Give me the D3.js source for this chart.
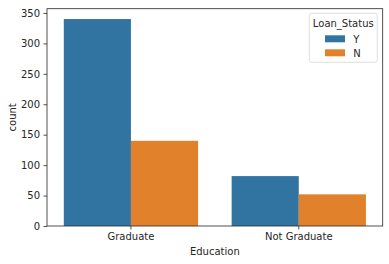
<!DOCTYPE html>
<html>
<head>
<meta charset="utf-8">
<script src="https://cdn.jsdelivr.net/npm/d3@7"></script>
<style>
  body { margin: 0; background: #fff; }
  svg text { font-family: "DejaVu Sans", sans-serif; fill: #262626; }
</style>
</head>
<body>
<div class="chart"></div>
<script>
// data
const educationLevels = ["Graduate", "Not Graduate"];
const loanStatus = ["Y", "N"];
const countY = [340, 82];
const countN = [140, 52];
const yTicks = [0, 50, 100, 150, 200, 250, 300, 350];
const hueColors = ["#3274a1", "#e1812c"];

const width = 389, height = 264;
const margin = {left: 47, right: 6.3, top: 8.7, bottom: 38};
const plotW = width - margin.left - margin.right;
const plotH = height - margin.top - margin.bottom;

const svg = d3.select(".chart").append("svg")
    .attr("width", width)
    .attr("height", height);

const g = svg.append("g")
    .attr("transform", `translate(${margin.left},${margin.top})`);

// build rows for the bars
const rows = [];
educationLevels.forEach((edu, i) => {
    rows.push({edu, status: "Y", value: countY[i]});
    rows.push({edu, status: "N", value: countN[i]});
});

const x = d3.scaleBand().domain(educationLevels).range([0, plotW]).padding(0);
const xInner = d3.scaleBand().domain(loanStatus).range([x.bandwidth() * 0.1, x.bandwidth() * 0.9]);
const y = d3.scaleLinear().domain([0, d3.max(countY) * 1.05]).range([plotH, 0]);
const color = d3.scaleOrdinal().domain(loanStatus).range(hueColors);

g.selectAll("rect.bar")
    .data(rows)
    .enter()
    .append("rect")
    .attr("class", "bar")
    .attr("x", d => x(d.edu) + xInner(d.status))
    .attr("y", d => y(d.value))
    .attr("width", xInner.bandwidth())
    .attr("height", d => plotH - y(d.value))
    .attr("fill", d => color(d.status));

// axes
const yAxis = g.append("g")
    .call(d3.axisLeft(y).tickValues(yTicks).tickSize(3.5).tickPadding(3.5));
const xAxis = g.append("g")
    .attr("transform", `translate(0,${plotH})`)
    .call(d3.axisBottom(x).tickSize(3.5).tickPadding(3.5));

[xAxis, yAxis].forEach(a => {
    a.select(".domain").remove();
    a.selectAll("text").attr("font-size", 10).attr("fill", "#262626")
        .style("font-family", "DejaVu Sans, sans-serif");
    a.selectAll("line").attr("stroke", "#262626").attr("stroke-width", 0.8);
});

// frame
g.append("rect")
    .attr("width", plotW).attr("height", plotH)
    .attr("fill", "none").attr("stroke", "#262626").attr("stroke-width", 0.8);

// axis labels
svg.append("text")
    .attr("x", margin.left + plotW / 2)
    .attr("y", 255)
    .attr("text-anchor", "middle")
    .attr("font-size", 10)
    .text("Education");

svg.append("text")
    .attr("transform", `translate(15.5,${margin.top + plotH / 2}) rotate(-90)`)
    .attr("text-anchor", "middle")
    .attr("font-size", 10)
    .text("count");

// legend
const legend = svg.append("g").attr("transform", "translate(309.3,13.3)");
legend.append("rect")
    .attr("width", 68).attr("height", 49).attr("rx", 2)
    .attr("fill", "#fff").attr("fill-opacity", 0.8)
    .attr("stroke", "#d6d6d6").attr("stroke-width", 0.8);
legend.append("text")
    .attr("x", 34).attr("y", 14)
    .attr("text-anchor", "middle")
    .attr("font-size", 10)
    .text("Loan_Status");

loanStatus.forEach((s, i) => {
    const row = legend.append("g").attr("transform", `translate(0,${22 + i * 14})`);
    row.append("rect")
        .attr("x", 15.7).attr("y", 0)
        .attr("width", 20).attr("height", 7)
        .attr("fill", color(s));
    row.append("text")
        .attr("x", 44).attr("y", 7.5)
        .attr("font-size", 10)
        .text(s);
});
</script>
</body>
</html>
